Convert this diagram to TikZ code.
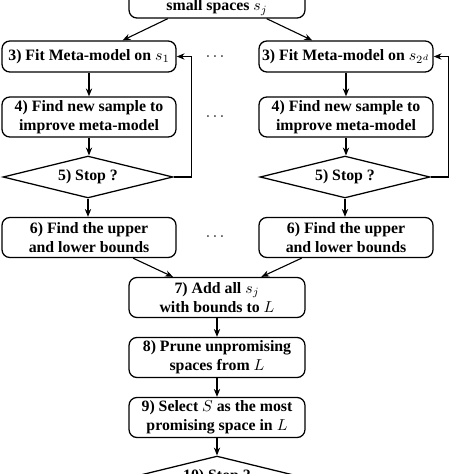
\documentclass[tikz,border=0pt]{standalone}
\usepackage{fontspec}
\setmainfont{Liberation Serif}
\usetikzlibrary{shapes.geometric,arrows.meta}
\begin{document}
\begin{tikzpicture}[x=0.632pt,y=-0.632pt,
  box/.style={draw, rounded corners=5pt, line width=0.8pt, font=\fontsize{10}{12}\selectfont\bfseries,
    align=center, inner sep=0pt, minimum height=25.3pt, minimum width=110pt},
  midbox/.style={box, minimum width=111.2pt},
  dec/.style={diamond, draw, aspect=4, line width=0.8pt, inner sep=0pt,
    minimum width=107.4pt, minimum height=26.5pt, font=\fontsize{10}{12}\selectfont\bfseries},
  arr/.style={-{Stealth[length=5pt,width=4pt]}, line width=0.7pt},
  dots/.style={font=\fontsize{10}{12}\selectfont}]
\useasboundingbox (0,0) rectangle (474,474);
\clip (0,0) rectangle (474,474);
% top box (partly outside)
\node[midbox, minimum height=29.1pt, text height=24.6pt, text depth=4.4pt] (top) at (217,-5) {small spaces $s_j$};
% left column
\node[box, minimum height=19.6pt] (b3l) at (89,56.5) {3) Fit Meta-model on $s_1$};
\node[box] (b4l) at (89,117) {4) Find new sample to\\improve meta-model};
\node[dec] (d5l) at (88,177) {5) Stop ?};
\node[box] (b6l) at (89,237.5) {6) Find the upper\\and lower bounds};
% right column
\node[box, minimum height=19.6pt] (b3r) at (346,56.5) {3) Fit Meta-model on $s_{2^d}$};
\node[box] (b4r) at (346,117) {4) Find new sample to\\improve meta-model};
\node[dec] (d5r) at (345,177) {5) Stop ?};
\node[box] (b6r) at (346,237.5) {6) Find the upper\\and lower bounds};
% dots
\node[dots] (dt1) at (215,57) {$\cdots$};
\node[dots] (dt2) at (215,117) {$\cdots$};
\node[dots] (dt3) at (215,237) {$\cdots$};
% middle
\node[midbox] (b7) at (217,297.5) {7) Add all $s_j$\\with bounds to $L$};
\node[midbox] (b8) at (217,357.5) {8) Prune unpromising\\spaces from $L$};
\node[midbox] (b9) at (217,417.5) {9) Select $S$ as the most\\promising space in $L$};
\node[dec] (d10) at (217,477) {10) Stop ?};
% connectors
\draw[arr] (top) -- (b3l);
\draw[arr] (top) -- (b3r);
\draw[arr] (b3l) -- (b4l);
\draw[arr] (b4l) -- (b4l |- d5l.north);
\draw[arr] (d5l) -- (d5l |- b6l.north);
\draw[arr] (b3r) -- (b4r);
\draw[arr] (b4r) -- (b4r |- d5r.north);
\draw[arr] (d5r) -- (d5r |- b6r.north);
\draw[arr] (d5l.east) -- ++(18,0) |- (b3l.east);
\draw[arr] (d5r.east) -- ++(18,0) |- (b3r.east);
\draw[arr] (b6l) -- (b7);
\draw[arr] (b6r) -- (b7);
\draw[arr] (b7) -- (b8);
\draw[arr] (b8) -- (b9);
\draw[arr] (b9) -- (d10);
\end{tikzpicture}
\end{document}
